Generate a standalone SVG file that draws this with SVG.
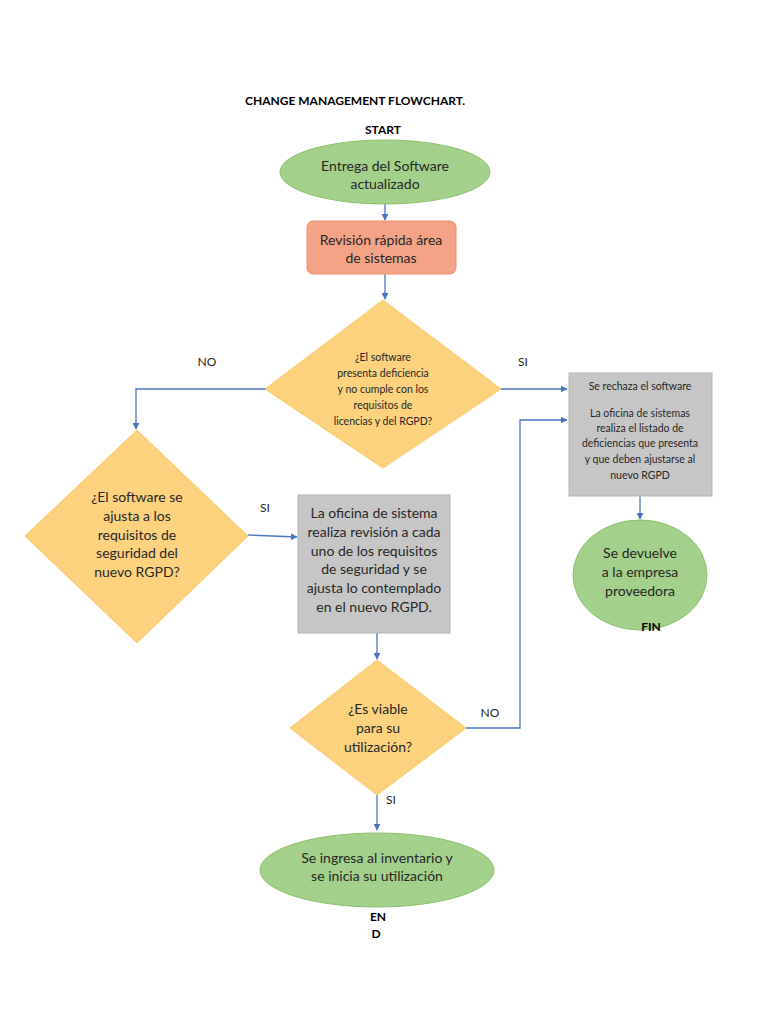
<svg xmlns="http://www.w3.org/2000/svg" width="768" height="1024" viewBox="0 0 768 1024">
<defs>
<style>
text{font-family:Lato,"Open Sans","Liberation Sans",sans-serif;fill:#262626;text-anchor:middle}
.lbl{font-size:12px}
.b{font-weight:bold;fill:#000}
.t14{font-size:14px}
.t11{font-size:10.5px}
.ell{fill:#a3d08a;stroke:#8cc06e;stroke-width:1}
.dia{fill:#fdd27e;stroke:#fbc964;stroke-width:1}
.gray{fill:#c6c6c6;stroke:#b5b5b5;stroke-width:1}
.sal{fill:#f4a386;stroke:#ec9070;stroke-width:1}
.con{fill:none;stroke:#4a74c0;stroke-width:1.3}
</style>
<marker id="ah" viewBox="0 0 10 10" refX="9" refY="5" markerWidth="7" markerHeight="7" orient="auto" markerUnits="userSpaceOnUse">
<path d="M0,0 L10,5 L0,10 z" fill="#4a74c0"/>
</marker>
</defs>
<rect width="768" height="1024" fill="#fff"/>
<text x="355" y="105" class="lbl b">CHANGE MANAGEMENT FLOWCHART.</text>
<text x="383" y="134" class="lbl b">START</text>

<g id="connectors">
<path class="con" d="M385,204 V220" marker-end="url(#ah)"/>
<path class="con" d="M385,274 V299" marker-end="url(#ah)"/>
<path class="con" d="M266,389 H136 V429" marker-end="url(#ah)"/>
<path class="con" d="M501,389 H567" marker-end="url(#ah)"/>
<path class="con" d="M248,535 L297,537" marker-end="url(#ah)"/>
<path class="con" d="M377,633 V659" marker-end="url(#ah)"/>
<path class="con" d="M466,728 H520 V420 H567" marker-end="url(#ah)"/>
<path class="con" d="M640,496 V519" marker-end="url(#ah)"/>
<path class="con" d="M377,795 V830" marker-end="url(#ah)"/>
</g>

<g id="n1">
<ellipse class="ell" cx="385" cy="172" rx="105" ry="32"/>
<text x="385" y="171" class="t14">Entrega del Software</text>
<text x="385" y="189" class="t14">actualizado</text>
</g>

<g id="n2">
<rect class="sal" x="307" y="221" width="149" height="53" rx="6"/>
<text x="381" y="245" class="t14">Revisión rápida área</text>
<text x="381" y="263" class="t14">de sistemas</text>
</g>

<g id="n3">
<polygon class="dia" points="383,300 501,389 383,468 265,389"/>
<text x="383" y="361" class="t11">¿El software</text>
<text x="383" y="377" class="t11">presenta deficiencia</text>
<text x="383" y="393" class="t11">y no cumple con los</text>
<text x="383" y="409" class="t11">requisitos de</text>
<text x="383" y="425" class="t11">licencias y del RGPD?</text>
</g>
<text x="207" y="366" class="lbl">NO</text>
<text x="523" y="366" class="lbl">SI</text>

<g id="n4">
<rect class="gray" x="569" y="373" width="143" height="123"/>
<text x="640" y="390" class="t11">Se rechaza el software</text>
<text x="640" y="417" class="t11">La oficina de sistemas</text>
<text x="640" y="432" class="t11">realiza el listado de</text>
<text x="640" y="447" class="t11">deficiencias que presenta</text>
<text x="640" y="463" class="t11">y que deben ajustarse al</text>
<text x="640" y="479" class="t11">nuevo RGPD</text>
</g>

<g id="n5">
<polygon class="dia" points="137,430 248,536 137,643 25,536"/>
<text x="137" y="502" class="t14">¿El software se</text>
<text x="137" y="521" class="t14">ajusta a los</text>
<text x="137" y="540" class="t14">requisitos de</text>
<text x="137" y="558" class="t14">seguridad del</text>
<text x="137" y="577" class="t14">nuevo RGPD?</text>
</g>
<text x="265" y="512" class="lbl">SI</text>

<g id="n6">
<rect class="gray" x="298" y="495" width="152" height="138"/>
<text x="374" y="518" class="t14">La oficina de sistema</text>
<text x="374" y="537" class="t14">realiza revisión a cada</text>
<text x="374" y="556" class="t14">uno de los requisitos</text>
<text x="374" y="574" class="t14">de seguridad y se</text>
<text x="374" y="593" class="t14">ajusta lo contemplado</text>
<text x="374" y="612" class="t14">en el nuevo RGPD.</text>
</g>

<g id="n7">
<ellipse class="ell" cx="640" cy="575" rx="67" ry="55"/>
<text x="640" y="558" class="t14">Se devuelve</text>
<text x="640" y="577" class="t14">a la empresa</text>
<text x="640" y="596" class="t14">proveedora</text>
</g>
<text x="651" y="631" class="lbl b">FIN</text>

<g id="n8">
<polygon class="dia" points="377,660 466,728 377,795 290,728"/>
<text x="378" y="714" class="t14">¿Es viable</text>
<text x="378" y="733" class="t14">para su</text>
<text x="378" y="752" class="t14">utilización?</text>
</g>
<text x="490" y="717" class="lbl">NO</text>
<text x="391" y="804" class="lbl">SI</text>

<g id="n9">
<ellipse class="ell" cx="377" cy="870" rx="117" ry="37"/>
<text x="377" y="863" class="t14">Se ingresa al inventario y</text>
<text x="377" y="881" class="t14">se inicia su utilización</text>
</g>
<text x="378" y="921" class="lbl b">EN</text>
<text x="376" y="938" class="lbl b">D</text>
</svg>
